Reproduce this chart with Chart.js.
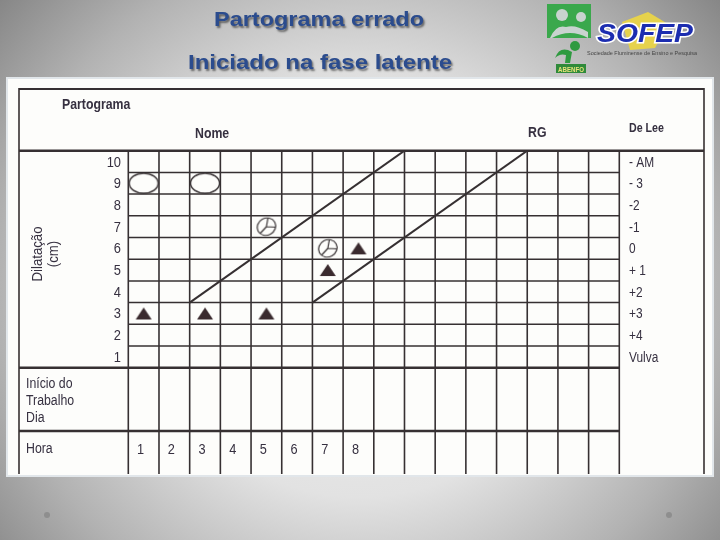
<!DOCTYPE html>
<html>
<head>
<meta charset="utf-8">
<script src="https://cdn.jsdelivr.net/npm/chart.js@4.4.1/dist/chart.umd.min.js"></script>
<style>
  html, body { margin: 0; padding: 0; background: #b0b0b0; }
  #wrap { width: 720px; height: 540px; }
</style>
</head>
<body>
<div id="wrap"><canvas id="c" width="720" height="540"></canvas></div>
<script>
// ---------------- DATA ----------------
const hourColumns = [1,2,3,4,5,6,7,8,9,10,11,12,13,14,15,16];
const hourLabels = ['1','2','3','4','5','6','7','8'];
const dilationLevels = [10,9,8,7,6,5,4,3,2,1];
const dilationLabels = ['10','9','8','7','6','5','4','3','2','1'];
const stationLabels = ['- AM','- 3','-2','-1','0','+ 1','+2','+3','+4','Vulva'];

// Bolsa (ellipses)
const membraneHours = [1, 3];
const membraneValues = [9, 9];
// Dilatação (triangles)
const dilationHours = [1, 3, 5, 7, 8];
const dilationValues = [3, 3, 3, 5, 6];
// Apresentação (head symbols)
const headHours = [5, 7];
const headValues = [7, 6];
// Linha de alerta / linha de ação
const alertLineX = [2.5, 9.5];
const alertLineY = [3.5, 10.5];
const actionLineX = [6.5, 13.5];
const actionLineY = [3.5, 10.5];

// ---------------- STYLE ----------------
const INK = '#363032';
const TXT = '#363040';
const SANS = '"Liberation Sans", Arial, sans-serif';

function pts(xs, ys) { return xs.map((x, i) => ({ x: x, y: ys[i] })); }

function makeCanvas(w, h, fn) {
  const cv = document.createElement('canvas');
  cv.width = w; cv.height = h;
  fn(cv.getContext('2d'));
  return cv;
}
const ellipseImg = makeCanvas(32, 24, g => {
  g.strokeStyle = INK; g.lineWidth = 1.4;
  g.beginPath(); g.ellipse(16, 12, 14.5, 10, 0, 0, Math.PI * 2); g.stroke();
});
const triangleImg = makeCanvas(18, 14, g => {
  g.fillStyle = '#3a2a2e';
  g.beginPath(); g.moveTo(9, 1); g.lineTo(17, 13); g.lineTo(1, 13); g.closePath(); g.fill();
});
const headImg = makeCanvas(24, 24, g => {
  g.strokeStyle = INK; g.lineWidth = 1.2;
  g.translate(12, 12);
  g.beginPath(); g.ellipse(0, 0, 9.5, 8.5, -0.5, 0, Math.PI * 2); g.stroke();
  g.beginPath();
  g.moveTo(0, 0); g.lineTo(1.5, -8.5);
  g.moveTo(0, 0); g.lineTo(9, 0.5);
  g.moveTo(0, 0); g.lineTo(-6, 6.5);
  g.stroke();
});

function drawText(c, s, x, y, font, color, align, sx) {
  c.save();
  c.font = font; c.fillStyle = color; c.textAlign = align || 'left'; c.textBaseline = 'alphabetic';
  c.translate(x, y); c.scale(sx || 1, 1);
  c.fillText(s, 0, 0);
  c.restore();
}
function fitText(c, s, x, y, font, color, align, width) {
  c.save(); c.font = font;
  const w = c.measureText(s).width;
  c.restore();
  drawText(c, s, x, y, font, color, align, width / w);
}
function line(c, x1, y1, x2, y2, w) {
  c.save(); c.strokeStyle = INK; c.lineWidth = w; c.lineCap = 'butt';
  c.beginPath(); c.moveTo(x1, y1); c.lineTo(x2, y2); c.stroke(); c.restore();
}

const formPlugin = {
  id: 'form',
  beforeDraw(chart) {
    const c = chart.ctx;
    const xs = chart.scales.x, ys = chart.scales.y;
    // slide background
    c.save();
    c.translate(360, 290); c.scale(1.05, 1);
    const g = c.createRadialGradient(0, 0, 0, 0, 0, 460);
    g.addColorStop(0, '#f2f2f2');
    g.addColorStop(0.45, '#e2e2e2');
    g.addColorStop(0.75, '#b2b2b2');
    g.addColorStop(1, '#828282');
    c.fillStyle = g; c.fillRect(-400, -320, 800, 640);
    c.restore();

    // titles
    c.save();
    c.shadowColor = 'rgba(0,0,0,0.5)'; c.shadowOffsetX = 1.5; c.shadowOffsetY = 1.5; c.shadowBlur = 2;
    fitText(c, 'Partograma errado', 319, 26, 'bold 21px ' + SANS, '#2b4c8e', 'center', 210);
    fitText(c, 'Iniciado na fase latente', 320, 69, 'bold 21px ' + SANS, '#2b4c8e', 'center', 264);
    c.restore();

    // logo ABENFO
    c.save();
    c.fillStyle = '#3aa84c'; c.fillRect(547, 4, 44, 34);
    c.fillStyle = '#c9d3cf';
    c.beginPath(); c.arc(562, 15, 6, 0, Math.PI * 2); c.fill();
    c.beginPath(); c.arc(581, 17, 5, 0, Math.PI * 2); c.fill();
    c.beginPath(); c.moveTo(550, 38); c.quadraticCurveTo(556, 24, 566, 27); c.quadraticCurveTo(575, 24, 588, 32); c.lineTo(588, 38); c.quadraticCurveTo(570, 28, 552, 38); c.closePath(); c.fill();
    c.fillStyle = '#2f9a40';
    c.beginPath(); c.arc(575, 46, 5, 0, Math.PI * 2); c.fill();
    c.beginPath(); c.moveTo(555, 58); c.quadraticCurveTo(560, 45, 572, 52); c.lineTo(570, 63); c.lineTo(565, 63); c.lineTo(566, 55); c.quadraticCurveTo(560, 53, 555, 58); c.closePath(); c.fill();
    c.fillStyle = '#2f8a3a'; c.fillRect(556, 64, 30, 9);
    fitText(c, 'ABENFO', 571, 72, 'bold 8px ' + SANS, '#e9e37a', 'center', 26);
    // SOFEP
    c.fillStyle = '#e6d24c';
    c.beginPath(); c.moveTo(622, 22); c.lineTo(648, 12); c.lineTo(668, 24); c.lineTo(655, 48); c.lineTo(630, 50); c.closePath(); c.fill();
    c.font = 'italic bold 25px ' + SANS;
    c.save(); c.translate(597, 42); c.scale(96 / c.measureText('SOFEP').width, 1);
    c.lineWidth = 3; c.strokeStyle = '#ffffff'; c.strokeText('SOFEP', 0, 0);
    c.fillStyle = '#1c2db0'; c.fillText('SOFEP', 0, 0);
    c.restore();
    fitText(c, 'Sociedade Fluminense de Ensino e Pesquisa', 587, 55, '5px ' + SANS, '#444', 'left', 110);
    c.restore();

    // white panel
    c.save();
    c.fillStyle = '#fdfdfb'; c.fillRect(6, 77, 708, 400);
    c.strokeStyle = '#e1e6ea'; c.lineWidth = 2; c.strokeRect(7, 78, 706, 398);
    c.restore();

    const L = 19, T = 89, R = 704, B = 474;
    const top = ys.getPixelForValue(10.5), bot = ys.getPixelForValue(0.5);
    const left = xs.getPixelForValue(0.5), right = xs.getPixelForValue(16.5);
    const rowH = (bot - top) / 10;
    const hourLineY = bot + rowH * 2.92;

    // frame
    line(c, L, T, R, T, 2);
    line(c, L, T - 1, L, B, 1.6);
    line(c, R, T - 1, R, B, 1.6);
    line(c, L, top, R, top, 2.6);
    // grid (dilatation)
    for (let v = 1.5; v <= 9.5; v++) {
      const y = ys.getPixelForValue(v);
      line(c, left, y, right, y, 1.5);
    }
    line(c, L, bot, right, bot, 2.6);
    line(c, L, hourLineY, right, hourLineY, 2.6);
    for (let v = 0.5; v <= 16.5; v++) {
      const x = xs.getPixelForValue(v);
      line(c, x, top, x, B, 1.6);
    }

    // header text
    drawText(c, 'Partograma', 62, 109, 'bold 15px ' + SANS, TXT, 'left', 0.82);
    drawText(c, 'Nome', 195, 138, 'bold 15px ' + SANS, TXT, 'left', 0.82);
    drawText(c, 'RG', 528, 137, 'bold 15px ' + SANS, TXT, 'left', 0.82);
    drawText(c, 'De Lee', 629, 132, 'bold 13px ' + SANS, TXT, 'left', 0.82);

    // dilatation labels
    dilationLevels.forEach((lv, i) => {
      const y = ys.getPixelForValue(lv) + 5;
      drawText(c, dilationLabels[i], 121, y, '14px ' + SANS, TXT, 'right', 0.92);
      drawText(c, stationLabels[i], 629, y, '14px ' + SANS, TXT, 'left', 0.85);
    });
    // rotated axis title
    c.save();
    c.translate(42, 254); c.rotate(-Math.PI / 2);
    drawText(c, 'Dilatação', 0, 0, '15px ' + SANS, TXT, 'center', 0.88);
    drawText(c, '(cm)', 0, 16, '15px ' + SANS, TXT, 'center', 0.88);
    c.restore();

    // lower section labels
    drawText(c, 'Início do', 26, 388, '14px ' + SANS, TXT, 'left', 0.88);
    drawText(c, 'Trabalho', 26, 405, '14px ' + SANS, TXT, 'left', 0.88);
    drawText(c, 'Dia', 26, 422, '14px ' + SANS, TXT, 'left', 0.88);
    drawText(c, 'Hora', 26, 453, '14px ' + SANS, TXT, 'left', 0.88);
    hourLabels.forEach((h, i) => {
      const x = xs.getPixelForValue(hourColumns[i]) - 3;
      drawText(c, h, x, 454, '15px ' + SANS, TXT, 'center', 0.85);
    });

    // bottom dots
    c.save(); c.fillStyle = '#8e8e8e';
    c.beginPath(); c.arc(47, 515, 3, 0, Math.PI * 2); c.fill();
    c.beginPath(); c.arc(669, 515, 3, 0, Math.PI * 2); c.fill();
    c.restore();
  }
};

new Chart(document.getElementById('c'), {
  type: 'scatter',
  data: {
    datasets: [
      { label: 'Linha de alerta', data: pts(alertLineX, alertLineY), showLine: true, borderColor: INK, borderWidth: 2, pointRadius: 0 },
      { label: 'Linha de ação', data: pts(actionLineX, actionLineY), showLine: true, borderColor: INK, borderWidth: 2, pointRadius: 0 },
      { label: 'Bolsa', data: pts(membraneHours, membraneValues), pointStyle: ellipseImg, pointRadius: 10 },
      { label: 'Dilatação', data: pts(dilationHours, dilationValues), pointStyle: triangleImg, pointRadius: 8 },
      { label: 'Apresentação', data: pts(headHours, headValues), pointStyle: headImg, pointRadius: 9 }
    ]
  },
  options: {
    responsive: false,
    animation: false,
    devicePixelRatio: 1,
    events: [],
    layout: { padding: { left: 128.3, right: 100.7, top: 150.7, bottom: 172.3 } },
    scales: {
      x: { type: 'linear', min: 0.5, max: 16.5, display: false },
      y: { type: 'linear', min: 0.5, max: 10.5, display: false }
    },
    plugins: { legend: { display: false }, tooltip: { enabled: false }, title: { display: false } }
  },
  plugins: [formPlugin]
});
</script>
</body>
</html>
